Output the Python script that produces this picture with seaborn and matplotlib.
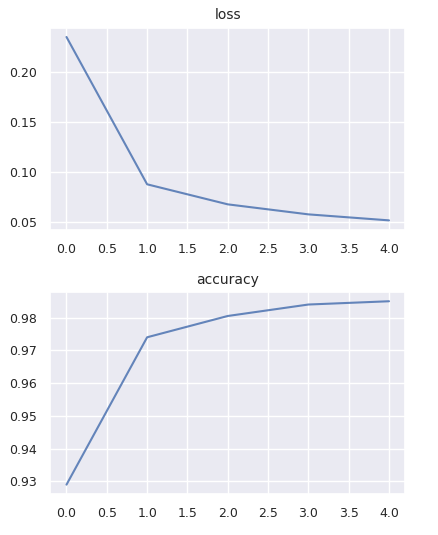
import matplotlib
matplotlib.use("Agg")
import matplotlib.pyplot as plt
import seaborn as sns

epochs = [0, 1, 2, 3, 4]
loss = [0.235, 0.088, 0.068, 0.058, 0.052]
accuracy = [0.929, 0.974, 0.9805, 0.984, 0.985]

sns.set_theme(style="darkgrid")
fig, axes = plt.subplots(2, 1, figsize=(4.38, 5.35), dpi=100)

for ax, vals, name in zip(axes, [loss, accuracy], ["loss", "accuracy"]):
    sns.lineplot(x=epochs, y=vals, ax=ax, color="#4c72b0", alpha=0.85)
    ax.set_title(name, fontsize=10)
    ax.tick_params(labelsize=9)

fig.subplots_adjust(left=0.115, right=0.925, top=0.948, bottom=0.077, hspace=0.31)
fig.savefig("out.png")
